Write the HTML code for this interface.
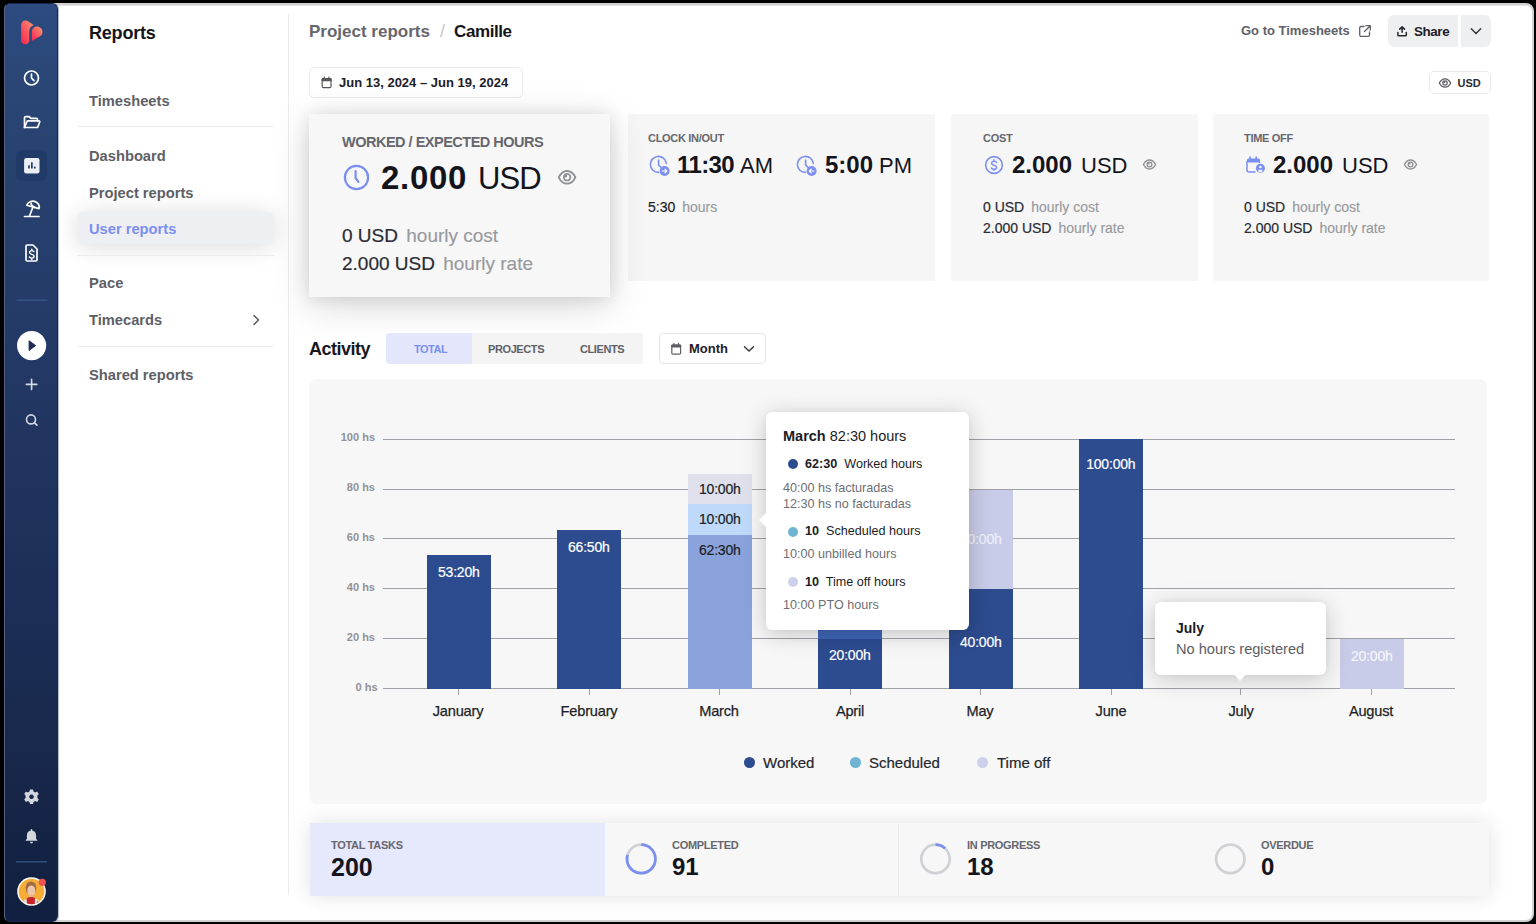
<!DOCTYPE html>
<html><head><meta charset="utf-8">
<style>
*{box-sizing:border-box;margin:0;padding:0}
html,body{width:1536px;height:924px;overflow:hidden;background:#000;font-family:"Liberation Sans",sans-serif;color:#1b1c24}
.win{position:absolute;left:4px;top:3px;width:1530px;height:919px;background:#fff;border-radius:8px;border:2px solid #d2d2d2;border-left:1px solid #d2d2d2;box-shadow:inset 0 1px 0 #e4e4e4;overflow:hidden}
.abs{position:absolute}
.side{position:absolute;left:4px;top:3px;width:54px;height:919px;border-radius:6px;border:1px solid #132850;border-left-color:#56627f;box-shadow:1px 0 1px rgba(30,45,85,0.35);background:linear-gradient(#2d4b80 0%,#294573 11%,#223662 44%,#1c2e57 66%,#18284a 82%,#111f40 100%)}
.nav{position:absolute;left:58px;top:3px;width:231px;height:893px}
.nav:after{content:"";position:absolute;left:230px;top:10px;width:1px;height:882px;background:#ebecef}
.nav .t{position:absolute;left:31px;font-size:14.7px;font-weight:bold;color:#5e5f66;white-space:nowrap}
.nav .hr{position:absolute;left:19px;width:197px;height:1px;background:#ededef}
.main{position:absolute;left:290px;top:3px;right:2px;bottom:2px}
.card{position:absolute;background:#f6f6f6}
.lbl{position:absolute;font-size:11px;font-weight:bold;color:#66676e;letter-spacing:-0.3px;white-space:nowrap}
.big{position:absolute;font-size:24px;white-space:nowrap;color:#14151c}
.big b{font-weight:bold}
.sub{position:absolute;font-size:14px;white-space:nowrap;color:#2a2b33;-webkit-text-stroke:0.2px #2a2b33}
.sub span{color:#98999e;margin-left:3px;-webkit-text-stroke:0.15px #98999e}
.ylab{position:absolute;font-size:11px;font-weight:bold;color:#919297;text-align:right;width:40px;white-space:nowrap}
.grid{position:absolute;left:383px;width:1072px;height:1px;background:#a0a1a6}
.bar{position:absolute;width:63.6px}
.bv{position:absolute;width:63.6px;text-align:center;font-size:14px;letter-spacing:-0.2px;color:#fff;white-space:nowrap;-webkit-text-stroke:0.2px currentColor}
.mon{position:absolute;width:100px;text-align:center;font-size:14.6px;letter-spacing:-0.2px;color:#1e1f26;white-space:nowrap;-webkit-text-stroke:0.25px #1e1f26}
.tick{position:absolute;width:1px;height:6px;background:#a0a1a6;top:689px}
</style></head><body>
<div class="win"></div>
<div class="side"></div>
<svg class="abs" style="left:0;top:0" width="60" height="924" viewBox="0 0 60 924">
  <defs>
    <linearGradient id="lg" x1="1" y1="0" x2="0" y2="1">
      <stop offset="0" stop-color="#ff9a72"/><stop offset="1" stop-color="#ff1f4e"/>
    </linearGradient>
  </defs>
  <!-- logo -->
  <path d="M25.5 20.6C22.8 20.6 21.1 22.6 21.1 25.6L21.1 40C21.1 42.7 23 44.3 25.4 44.3C27.8 44.3 29.2 42.4 29.2 40.2L29.2 31.8C29.2 28.6 30.6 26.2 33.6 24.9L28.4 21.4C27.5 20.9 26.5 20.6 25.5 20.6Z" fill="url(#lg)"/>
  <path d="M31.8 41L31.8 32.2C31.8 28.9 33.8 26.4 36.8 26.4C39.9 26.4 42.5 28.7 42.5 31.9C42.5 33.8 41.5 35.3 40 36.3Z" fill="url(#lg)"/>
  <!-- clock -->
  <g fill="none" stroke="#fff" stroke-width="1.7" stroke-linecap="round" stroke-linejoin="round">
    <circle cx="31.5" cy="78" r="7"/>
    <path d="M31.5 74.2V78.2L34 80.6"/>
    <!-- folder open -->
    <path d="M24.5 127.5V117.8C24.5 117.1 25 116.6 25.7 116.6H29.2L30.8 118.3H36.3C37 118.3 37.5 118.8 37.5 119.5V120.8"/>
    <path d="M24.5 127.5L27 121.5C27.2 121 27.6 120.8 28.1 120.8H38.8C39.5 120.8 39.9 121.4 39.7 122L37.6 127.5Z"/>
    <!-- umbrella -->
    <path d="M24.5 216.5H39"/>
    <path d="M29.5 216L32.8 207.5"/>
    <path d="M26.8 205.2C27.8 201.6 32.6 200 36 202C38.6 203.5 39.6 206.3 39 208.6Z"/>
    <path d="M31 203.2C31.3 205.6 32.6 206.9 34.7 207.3"/>
    <!-- doc dollar -->
    <path d="M26 246.2C26 245.5 26.6 245 27.2 245H33L37 249V259.8C37 260.5 36.4 261 35.8 261H27.2C26.6 261 26 260.5 26 259.8Z"/>
    <!-- plus -->
    <path d="M31.6 379.2V389.6M26.4 384.4H36.8" stroke="#d6dae3" stroke-width="1.6"/>
    <!-- search -->
    <circle cx="31" cy="419.4" r="4.5" stroke="#d6dae3" stroke-width="1.6"/>
    <path d="M34.3 422.7L36.9 425.2" stroke="#d6dae3" stroke-width="1.7"/>
  </g>
  <path d="M33.9 251.6C33.4 250.9 32.7 250.6 31.8 250.6C30.5 250.6 29.6 251.3 29.6 252.4C29.6 254.9 34.1 253.8 34.1 256.3C34.1 257.4 33.1 258.1 31.8 258.1C30.8 258.1 29.9 257.7 29.4 257M31.8 249.2V250.6M31.8 258.1V259.5" fill="none" stroke="#fff" stroke-width="1.4" stroke-linecap="round"/>
  <!-- chart active -->
  <rect x="16" y="150" width="31" height="31" rx="6" fill="#213b69"/>
  <rect x="24.1" y="158" width="15.4" height="15.4" rx="2.2" fill="#eceef3"/>
  <rect x="28.1" y="165.2" width="1.7" height="3.2" rx="0.5" fill="#22396a"/>
  <rect x="31" y="162.3" width="1.7" height="6.1" rx="0.5" fill="#22396a"/>
  <rect x="33.9" y="166.4" width="1.7" height="2" rx="0.5" fill="#22396a"/>
  <!-- divider -->
  <rect x="16.5" y="299.5" width="31" height="1.2" fill="#38598f"/>
  <!-- play -->
  <circle cx="31.6" cy="345.6" r="14.6" fill="#fff"/>
  <path d="M29.1 340.8L35.6 345.6L29.1 350.4Z" fill="#1f2b56" stroke="#1f2b56" stroke-width="1" stroke-linejoin="round"/>
  <!-- gear -->
  <g transform="translate(31.5 796.8)">
    <path fill="#d3d6dd" fill-rule="evenodd" d="M-1.5 -7.3H1.5L2 -5.2L3.7 -4.3L5.6 -5.2L7.3 -2.7L5.9 -1.2V1.2L7.3 2.7L5.6 5.2L3.7 4.3L2 5.2L1.5 7.3H-1.5L-2 5.2L-3.7 4.3L-5.6 5.2L-7.3 2.7L-5.9 1.2V-1.2L-7.3 -2.7L-5.6 -5.2L-3.7 -4.3L-2 -5.2ZM0 -2.3A2.3 2.3 0 1 0 0.01 -2.3Z"/>
  </g>
  <!-- bell -->
  <g transform="translate(0 1.5)" fill="#d3d6dd">
  <path d="M31.5 829C28.4 829 26.9 831.4 26.9 834.3V837.3L25.4 839.2H37.6L36.1 837.3V834.3C36.1 831.4 34.6 829 31.5 829Z"/>
  <path d="M30 840.2H33C33 841.3 32.3 841.9 31.5 841.9C30.7 841.9 30 841.3 30 840.2Z"/>
  <rect x="30.8" y="827.6" width="1.4" height="2" rx="0.6"/>
  </g>
  <rect x="16" y="861.3" width="31" height="1.2" fill="#38598f"/>
  <!-- avatar -->
  <circle cx="31.5" cy="891.5" r="14.3" fill="#fff"/>
  <circle cx="31.5" cy="891.5" r="12.8" fill="#f5ad35"/>
  <clipPath id="avc"><circle cx="31.5" cy="891.5" r="12.8"/></clipPath>
  <g clip-path="url(#avc)">
    <ellipse cx="31" cy="888" rx="5.4" ry="6.6" fill="#a06c48"/>
    <ellipse cx="31.3" cy="890.6" rx="4" ry="5.4" fill="#ebc6ab"/>
    <path d="M27.3 887.5C27.6 884.6 29.2 883.4 31.3 883.4C33.4 883.4 35 884.6 35.2 887.5C34 885.8 32.6 885.3 31.3 885.3C29.9 885.3 28.5 885.8 27.3 887.5Z" fill="#a06c48"/>
    <rect x="29.6" y="894.5" width="3.4" height="3.5" fill="#e2b89c"/>
    <path d="M22 907L24.2 900.3C25.5 899 27 898.4 28.5 898.3L29 907Z" fill="#e4e2e0"/>
    <path d="M34.2 898.3C36 898.5 37.6 899.2 38.8 900.4L41.5 907H34Z" fill="#e4e2e0"/>
    <path d="M26.6 898.6C28.4 897.3 30 897 31.4 897C32.8 897 34.4 897.3 35 898.4L34.6 907H27.2Z" fill="#c8222b"/>
    <path d="M37.2 900.8L38.8 901.6L37.6 903.4L36.6 902.5Z" fill="#e8742a"/>
  </g>
  <circle cx="42.3" cy="882.3" r="3.6" fill="#ef5350"/>
</svg>
<div class="nav">
  <div class="abs" style="left:31px;top:20px;font-size:18px;font-weight:bold;letter-spacing:-0.2px;color:#14151c">Reports</div>
  <div class="t" style="top:90px">Timesheets</div>
  <div class="hr" style="top:123px"></div>
  <div class="t" style="top:145px">Dashboard</div>
  <div class="t" style="top:182px">Project reports</div>
  <div class="abs" style="left:19px;top:209px;width:197px;height:32px;border-radius:6px;background:#eeeff2;box-shadow:0 2px 24px rgba(0,0,0,0.15)"></div>
  <div class="t" style="top:218px;color:#7b8ff0">User reports</div>
  <div class="hr" style="top:252px"></div>
  <div class="t" style="top:272px">Pace</div>
  <div class="t" style="top:309px">Timecards</div>
  <div class="hr" style="top:343px"></div>
  <div class="t" style="top:364px">Shared reports</div>
  <svg class="abs" style="left:193px;top:311px" width="10" height="12" viewBox="0 0 10 12"><path d="M3 1.5L7.5 6L3 10.5" fill="none" stroke="#56575e" stroke-width="1.5" stroke-linecap="round" stroke-linejoin="round"/></svg>
</div>

<!-- header -->
<div class="abs" style="left:309px;top:22px;font-size:17px;font-weight:bold;white-space:nowrap;color:#66676e">Project reports</div>
<div class="abs" style="left:440px;top:21px;font-size:18px;white-space:nowrap;color:#c6c6ca">/</div>
<div class="abs" style="left:454px;top:22px;font-size:17px;font-weight:bold;letter-spacing:-0.4px;white-space:nowrap;color:#14151c">Camille</div>
<div class="abs" style="left:309px;top:67px;width:214px;height:31px;border:1px solid #eaeaec;border-radius:5px;background:#fff"></div>
<svg class="abs" style="left:320px;top:76px" width="13" height="13" viewBox="0 0 13 13"><rect x="2.2" y="2.6" width="8.8" height="9.1" rx="1.1" fill="none" stroke="#55565d" stroke-width="1.2"/><rect x="1.6" y="2" width="10" height="3.2" rx="1" fill="#55565d"/><path d="M4.3 1V2.6M8.9 1V2.6" stroke="#55565d" stroke-width="1.2" stroke-linecap="round"/></svg>
<div class="abs" style="left:339px;top:75px;font-size:13px;font-weight:bold;color:#1f2027;white-space:nowrap">Jun 13, 2024 – Jun 19, 2024</div>

<div class="abs" style="left:1241px;top:23px;font-size:13px;font-weight:bold;color:#606167;white-space:nowrap">Go to Timesheets</div>
<svg class="abs" style="left:1357.5px;top:24px" width="14" height="14" viewBox="0 0 14 14"><path d="M6 2.5H3C2.2 2.5 1.7 3 1.7 3.8V11C1.7 11.8 2.2 12.3 3 12.3H10.2C11 12.3 11.5 11.8 11.5 11V8M8 1.7H12.3V6M12.3 1.7L6.5 7.5" fill="none" stroke="#606167" stroke-width="1.3" stroke-linecap="round" stroke-linejoin="round"/></svg>
<div class="abs" style="left:1387.5px;top:15px;width:70.5px;height:31.6px;background:#eeeff1;border-radius:6px 0 0 6px"></div>
<div class="abs" style="left:1461.3px;top:15px;width:29.3px;height:31.6px;background:#eeeff1;border-radius:0 6px 6px 0"></div>
<svg class="abs" style="left:1396px;top:23px" width="12" height="14" viewBox="0 0 12 14"><path d="M6.1 9.2V3.9M3.7 6.1L6.1 3.7L8.5 6.1M1.9 9.6V11.9C1.9 12.4 2.3 12.7 2.8 12.7H9.4C9.9 12.7 10.3 12.4 10.3 11.9V9.6" fill="none" stroke="#26272e" stroke-width="1.5" stroke-linecap="round" stroke-linejoin="round"/></svg>
<div class="abs" style="left:1414px;top:23.5px;font-size:13.4px;font-weight:bold;letter-spacing:-0.4px;color:#1f2027">Share</div>
<svg class="abs" style="left:1469px;top:26px" width="14" height="10" viewBox="0 0 14 10"><path d="M2.3 2.8L7 7.6L11.7 2.8" fill="none" stroke="#3a3b42" stroke-width="1.5" stroke-linecap="round" stroke-linejoin="round"/></svg>

<div class="abs" style="left:1429px;top:71px;width:62px;height:23px;border:1px solid #ebebed;border-radius:5px;background:#fff"></div>
<svg class="abs" style="left:1438px;top:76.5px" width="14" height="12" viewBox="0 0 14 12"><path d="M1.3 6C2.7 3.3 4.7 1.8 7 1.8C9.3 1.8 11.3 3.3 12.7 6C11.3 8.7 9.3 10.2 7 10.2C4.7 10.2 2.7 8.7 1.3 6Z" fill="none" stroke="#5a5b62" stroke-width="1.25" stroke-linejoin="round"/><circle cx="7" cy="6" r="2.2" fill="none" stroke="#5a5b62" stroke-width="1.2"/><circle cx="6.4" cy="5.4" r="0.8" fill="#5a5b62"/></svg>
<div class="abs" style="left:1457.5px;top:77px;font-size:11px;font-weight:bold;color:#2a2b33">USD</div>

<!-- cards -->
<div class="card" style="left:628px;top:114px;width:307px;height:167px"></div>
<div class="card" style="left:951px;top:114px;width:247px;height:167px"></div>
<div class="card" style="left:1213px;top:114px;width:276px;height:167px"></div>

<!-- card 2 -->
<div class="lbl" style="left:648px;top:132px">CLOCK IN/OUT</div>
<svg class="abs" style="left:649px;top:155px" width="22" height="22" viewBox="0 0 22 22"><path d="M17.3 8.5A8 8 0 1 0 9.5 17.4" fill="none" stroke="#7b8ff0" stroke-width="1.6" stroke-linecap="round"/><path d="M9.6 5V10.1L12.3 12.5" fill="none" stroke="#7b8ff0" stroke-width="1.6" stroke-linecap="round" stroke-linejoin="round"/><circle cx="15.6" cy="16" r="5" fill="#7b8ff0"/><path d="M13.2 16H17.8M16 14.2L17.8 16L16 17.8" fill="none" stroke="#fff" stroke-width="1.2" stroke-linecap="round" stroke-linejoin="round"/></svg>
<div class="big" style="left:677px;top:151px"><b style="letter-spacing:-0.6px">11:30</b><span style="font-size:22px;margin-left:6px">AM</span></div>
<svg class="abs" style="left:796px;top:155px" width="22" height="22" viewBox="0 0 22 22"><path d="M17.3 8.5A8 8 0 1 0 9.5 17.4" fill="none" stroke="#7b8ff0" stroke-width="1.6" stroke-linecap="round"/><path d="M9.6 5V10.1L12.3 12.5" fill="none" stroke="#7b8ff0" stroke-width="1.6" stroke-linecap="round" stroke-linejoin="round"/><circle cx="15.6" cy="16" r="5" fill="#7b8ff0"/><path d="M18 16H13.4M15.2 14.2L13.4 16L15.2 17.8" fill="none" stroke="#fff" stroke-width="1.2" stroke-linecap="round" stroke-linejoin="round"/></svg>
<div class="big" style="left:825px;top:151px"><b>5:00</b><span style="font-size:22px;margin-left:6px">PM</span></div>
<div class="sub" style="left:648px;top:199px"><b style="font-weight:normal;color:#1b1c24">5:30</b> <span>hours</span></div>

<!-- card 3 -->
<div class="lbl" style="left:983px;top:132px">COST</div>
<svg class="abs" style="left:984px;top:155px" width="20" height="20" viewBox="0 0 20 20"><circle cx="10" cy="10" r="8.4" fill="none" stroke="#7b8ff0" stroke-width="1.6"/><path d="M12.5 7.4C12 6.6 11.1 6.2 10 6.2C8.6 6.2 7.6 7 7.6 8.2C7.6 10.9 12.6 9.7 12.6 12.3C12.6 13.5 11.5 14.3 10 14.3C8.8 14.3 7.9 13.8 7.4 13M10 4.8V6.2M10 14.3V15.3" fill="none" stroke="#7b8ff0" stroke-width="1.6" stroke-linecap="round"/></svg>
<div class="big" style="left:1012px;top:151px"><b>2.000</b><span style="font-size:22px;margin-left:9px">USD</span></div>
<svg class="abs" style="left:1142px;top:158px" width="15" height="13" viewBox="0 0 15 13"><path d="M1.4 6.5C2.9 3.6 5 2 7.5 2C10 2 12.1 3.6 13.6 6.5C12.1 9.4 10 11 7.5 11C5 11 2.9 9.4 1.4 6.5Z" fill="none" stroke="#8e8f94" stroke-width="1.35" stroke-linejoin="round"/><circle cx="7.5" cy="6.5" r="2.4" fill="none" stroke="#8e8f94" stroke-width="1.3"/><circle cx="6.7" cy="5.7" r="0.9" fill="#8e8f94"/></svg>
<div class="sub" style="left:983px;top:199px">0 USD <span>hourly cost</span></div>
<div class="sub" style="left:983px;top:220px">2.000 USD <span>hourly rate</span></div>

<!-- card 4 -->
<div class="lbl" style="left:1244px;top:132px">TIME OFF</div>
<svg class="abs" style="left:1245.6px;top:156.3px" width="20" height="18" viewBox="0 0 20 18"><path d="M9.5 16H3C1.8 16 1 15.2 1 14V5" fill="none" stroke="#7b8ff0" stroke-width="1.5"/><path d="M13.4 5V7.5" stroke="#7b8ff0" stroke-width="1.5"/><rect x="1" y="2.6" width="13.1" height="3.8" rx="1.6" fill="#7b8ff0"/><path d="M4.1 1V3M10.2 1V3" stroke="#7b8ff0" stroke-width="1.6" stroke-linecap="round"/><circle cx="14.4" cy="12.3" r="5.3" fill="#f6f6f6"/><circle cx="14.4" cy="12.3" r="4.5" fill="#7b8ff0"/><circle cx="14.4" cy="11" r="1.35" fill="#f6f6f6"/><path d="M11.9 15.1C12.5 14.1 13.4 13.7 14.4 13.7C15.4 13.7 16.3 14.1 16.9 15.1C16.2 15.9 15.3 16.3 14.4 16.3C13.5 16.3 12.6 15.9 11.9 15.1Z" fill="#f6f6f6"/></svg>
<div class="big" style="left:1273px;top:151px"><b>2.000</b><span style="font-size:22px;margin-left:9px">USD</span></div>
<svg class="abs" style="left:1403px;top:158px" width="15" height="13" viewBox="0 0 15 13"><path d="M1.4 6.5C2.9 3.6 5 2 7.5 2C10 2 12.1 3.6 13.6 6.5C12.1 9.4 10 11 7.5 11C5 11 2.9 9.4 1.4 6.5Z" fill="none" stroke="#8e8f94" stroke-width="1.35" stroke-linejoin="round"/><circle cx="7.5" cy="6.5" r="2.4" fill="none" stroke="#8e8f94" stroke-width="1.3"/><circle cx="6.7" cy="5.7" r="0.9" fill="#8e8f94"/></svg>
<div class="sub" style="left:1244px;top:199px">0 USD <span>hourly cost</span></div>
<div class="sub" style="left:1244px;top:220px">2.000 USD <span>hourly rate</span></div>

<!-- card 1 elevated -->
<div class="card" style="left:309px;top:114px;width:301px;height:183px;background:#f7f7f7;box-shadow:0 8px 34px rgba(0,0,0,0.17),0 0 16px rgba(0,0,0,0.09)"></div>
<div class="lbl" style="left:342px;top:134px;font-size:14.5px;letter-spacing:-0.5px">WORKED / EXPECTED HOURS</div>
<svg class="abs" style="left:343px;top:164px" width="27" height="27" viewBox="0 0 27 27"><circle cx="13.5" cy="13.5" r="11.6" fill="none" stroke="#7b8ff0" stroke-width="2.2"/><path d="M12.6 7.2V14L15.4 17.8" fill="none" stroke="#7b8ff0" stroke-width="2.2" stroke-linecap="round" stroke-linejoin="round"/></svg>
<div class="big" style="left:381px;top:159px;font-size:33px"><b style="letter-spacing:0.7px">2.000</b><span style="font-size:31px;letter-spacing:-1px;margin-left:11px">USD</span></div>
<svg class="abs" style="left:556px;top:168px" width="22" height="19" viewBox="0 0 22 19"><path d="M2.8 9.3C4.7 5.3 7.6 3 11.1 3C14.6 3 17.5 5.3 19.4 9.3C17.5 13.3 14.6 15.6 11.1 15.6C7.6 15.6 4.7 13.3 2.8 9.3Z" fill="none" stroke="#8e8f94" stroke-width="1.8" stroke-linejoin="round"/><circle cx="11.1" cy="9.2" r="3.3" fill="none" stroke="#8e8f94" stroke-width="1.7"/><circle cx="9.9" cy="8.1" r="1.3" fill="#8e8f94"/></svg>
<div class="sub" style="left:342px;top:225px;font-size:19px">0 USD <span>hourly cost</span></div>
<div class="sub" style="left:342px;top:253px;font-size:19px">2.000 USD <span>hourly rate</span></div>

<!-- activity -->
<div class="abs" style="left:309px;top:339px;font-size:18px;font-weight:bold;letter-spacing:-0.5px;color:#17181f">Activity</div>
<div class="abs" style="left:386px;top:333px;width:257px;height:31px;background:#f4f4f5;border-radius:4px 0 0 4px"></div>
<div class="abs" style="left:386px;top:333px;width:86px;height:31px;background:#e4e6fb;border-radius:4px 0 0 4px"></div>
<div class="abs" style="left:414px;top:343px;font-size:11px;font-weight:bold;letter-spacing:-0.5px;color:#7b8ff0">TOTAL</div>
<div class="abs" style="left:488px;top:343px;font-size:11px;font-weight:bold;letter-spacing:-0.4px;color:#606167">PROJECTS</div>
<div class="abs" style="left:580px;top:343px;font-size:11px;font-weight:bold;letter-spacing:-0.4px;color:#606167">CLIENTS</div>
<div class="abs" style="left:659px;top:333px;width:107px;height:31px;border:1px solid #e6e6e8;border-radius:4px;background:#fff"></div>
<svg class="abs" style="left:670px;top:342px" width="13" height="14" viewBox="0 0 13 14"><rect x="1.8" y="3" width="8.8" height="9.2" rx="1.1" fill="none" stroke="#5d5e65" stroke-width="1.2"/><rect x="1.2" y="2.4" width="10" height="3.2" rx="1" fill="#5d5e65"/><path d="M3.9 1.3V3M8.5 1.3V3" stroke="#5d5e65" stroke-width="1.2" stroke-linecap="round"/></svg>
<div class="abs" style="left:689px;top:341px;font-size:13px;font-weight:bold;color:#1f2027">Month</div>
<svg class="abs" style="left:742px;top:344px" width="14" height="10" viewBox="0 0 14 10"><path d="M2.5 2.8L7 7L11.5 2.8" fill="none" stroke="#3a3b42" stroke-width="1.5" stroke-linecap="round" stroke-linejoin="round"/></svg>

<!-- chart panel -->
<div class="abs" style="left:308.5px;top:379px;width:1178.5px;height:425px;background:#f7f7f7;border-radius:8px"></div>
<div class="ylab" style="left:335px;top:431px">100 hs</div>
<div class="ylab" style="left:335px;top:481px">80 hs</div>
<div class="ylab" style="left:335px;top:531px">60 hs</div>
<div class="ylab" style="left:335px;top:581px">40 hs</div>
<div class="ylab" style="left:335px;top:631px">20 hs</div>
<div class="ylab" style="left:337.5px;top:681px">0 hs</div>
<div class="grid" style="top:439px"></div>
<div class="grid" style="top:489px"></div>
<div class="grid" style="top:538px"></div>
<div class="grid" style="top:588px"></div>
<div class="grid" style="top:638px"></div>
<div class="grid" style="top:688px"></div>

<!-- bars -->
<div class="bar" style="left:427px;top:555px;height:134px;background:#2d4b8f"></div>
<div class="bv" style="left:427px;top:564px">53:20h</div>
<div class="bar" style="left:557px;top:530px;height:159px;background:#2d4b8f"></div>
<div class="bv" style="left:557px;top:539px">66:50h</div>
<div class="bar" style="left:688px;top:474px;height:30px;background:#dfe0ec"></div>
<div class="bar" style="left:688px;top:504px;height:31px;background:#bed9fa"></div>
<div class="bar" style="left:688px;top:535px;height:154px;background:#8ba3dc"></div>
<div class="bv" style="left:688px;top:481px;color:#1b1c24">10:00h</div>
<div class="bv" style="left:688px;top:511px;color:#1b1c24">10:00h</div>
<div class="bv" style="left:688px;top:542px;color:#1b1c24">62:30h</div>
<div class="bar" style="left:818px;top:620px;height:19px;background:#3f65b5"></div>
<div class="bar" style="left:818px;top:639px;height:50px;background:#2d4b8f"></div>
<div class="bv" style="left:818px;top:647px">20:00h</div>
<div class="bar" style="left:949px;top:490px;height:99px;background:#c9cce8"></div>
<div class="bar" style="left:949px;top:589px;height:100px;background:#2d4b8f"></div>
<div class="bv" style="left:949px;top:531px;color:#eef0fa">20:00h</div>
<div class="bv" style="left:949px;top:634px">40:00h</div>
<div class="bar" style="left:1079px;top:439px;height:250px;background:#2d4b8f"></div>
<div class="bv" style="left:1079px;top:456px">100:00h</div>
<div class="bar" style="left:1340px;top:639px;height:50px;background:#c9cce8"></div>
<div class="bv" style="left:1340px;top:648px;color:#f4f5fb">20:00h</div>

<div class="tick" style="left:458px"></div>
<div class="tick" style="left:589px"></div>
<div class="tick" style="left:719px"></div>
<div class="tick" style="left:850px"></div>
<div class="tick" style="left:980px"></div>
<div class="tick" style="left:1111px"></div>
<div class="tick" style="left:1240px"></div>
<div class="tick" style="left:1371px"></div>
<div class="mon" style="left:408px;top:703px">January</div>
<div class="mon" style="left:539px;top:703px">February</div>
<div class="mon" style="left:669px;top:703px">March</div>
<div class="mon" style="left:800px;top:703px">April</div>
<div class="mon" style="left:930px;top:703px">May</div>
<div class="mon" style="left:1061px;top:703px">June</div>
<div class="mon" style="left:1191px;top:703px">July</div>
<div class="mon" style="left:1321px;top:703px">August</div>

<!-- legend -->
<div class="abs" style="left:744px;top:757px;width:11px;height:11px;border-radius:50%;background:#2d4b8f"></div>
<div class="abs" style="left:763px;top:754px;font-size:15px;color:#26272e;-webkit-text-stroke:0.2px #26272e">Worked</div>
<div class="abs" style="left:850px;top:757px;width:11px;height:11px;border-radius:50%;background:#6fb5d3"></div>
<div class="abs" style="left:869px;top:754px;font-size:15px;color:#26272e;-webkit-text-stroke:0.2px #26272e">Scheduled</div>
<div class="abs" style="left:977px;top:757px;width:11px;height:11px;border-radius:50%;background:#cdd0ea"></div>
<div class="abs" style="left:997px;top:754px;font-size:15px;color:#26272e;-webkit-text-stroke:0.2px #26272e">Time off</div>

<!-- tooltip march -->
<div class="abs" style="left:766px;top:412px;width:203px;height:218px;background:#fff;border-radius:6px;box-shadow:0 4px 24px rgba(0,0,0,0.2),0 0 6px rgba(0,0,0,0.04)"></div>
<div class="abs" style="left:759px;top:512px;width:0;height:0;border-top:8px solid transparent;border-bottom:8px solid transparent;border-right:8px solid #fff"></div>
<div class="abs" style="left:783px;top:428px;font-size:14.5px;color:#1b1c24;white-space:nowrap"><b>March</b> 82:30 hours</div>
<div class="abs" style="left:788px;top:459px;width:10px;height:10px;border-radius:50%;background:#2d4b8f"></div>
<div class="abs" style="left:805px;top:457px;font-size:12.6px;color:#1b1c24;white-space:nowrap"><b>62:30</b>&nbsp; Worked hours</div>
<div class="abs" style="left:783px;top:480px;font-size:12.6px;color:#6d6e74;white-space:nowrap;line-height:16px">40:00 hs facturadas<br>12:30 hs no facturadas</div>
<div class="abs" style="left:788px;top:527px;width:10px;height:10px;border-radius:50%;background:#6fb5d3"></div>
<div class="abs" style="left:805px;top:524px;font-size:12.6px;color:#1b1c24;white-space:nowrap"><b>10</b>&nbsp; Scheduled hours</div>
<div class="abs" style="left:783px;top:547px;font-size:12.6px;color:#6d6e74;white-space:nowrap">10:00 unbilled hours</div>
<div class="abs" style="left:788px;top:577px;width:10px;height:10px;border-radius:50%;background:#cdd0ea"></div>
<div class="abs" style="left:805px;top:575px;font-size:12.6px;color:#1b1c24;white-space:nowrap"><b>10</b>&nbsp; Time off hours</div>
<div class="abs" style="left:783px;top:598px;font-size:12.6px;color:#6d6e74;white-space:nowrap">10:00 PTO hours</div>

<!-- tooltip july -->
<div class="abs" style="left:1155px;top:602px;width:171px;height:72.5px;background:#fff;border-radius:6px;box-shadow:0 4px 24px rgba(0,0,0,0.2),0 0 6px rgba(0,0,0,0.04)"></div>
<div class="abs" style="left:1234px;top:674px;width:0;height:0;border-left:6.5px solid transparent;border-right:6.5px solid transparent;border-top:7px solid #fff"></div>
<div class="abs" style="left:1176px;top:620px;font-size:14px;font-weight:bold;color:#1b1c24">July</div>
<div class="abs" style="left:1176px;top:641px;font-size:14.6px;color:#5c5d63;white-space:nowrap">No hours registered</div>

<!-- bottom stats -->
<div class="abs" style="left:310px;top:823px;width:1179px;height:73px;background:#f7f7f7;box-shadow:0 0 20px rgba(0,0,0,0.12)"></div>
<div class="abs" style="left:310px;top:823px;width:295px;height:73px;background:#e6e8fb"></div>
<div class="abs" style="left:898px;top:823px;width:1px;height:73px;background:#ececee"></div>
<div class="lbl" style="left:331px;top:839px">TOTAL TASKS</div>
<div class="abs" style="left:331px;top:853px;font-size:25px;font-weight:bold;color:#14151c">200</div>
<svg class="abs" style="left:624px;top:842px" width="34" height="34" viewBox="0 0 34 34"><circle cx="17.2" cy="16.9" r="14.2" fill="none" stroke="#d0d1d5" stroke-width="2.7"/><circle cx="17.2" cy="16.9" r="14.2" fill="none" stroke="#7b8ff0" stroke-width="2.7" stroke-dasharray="70.6 200" transform="rotate(-90 17.2 16.9)"/></svg>
<div class="lbl" style="left:672px;top:839px">COMPLETED</div>
<div class="abs" style="left:672px;top:853px;font-size:24px;font-weight:bold;color:#14151c">91</div>
<svg class="abs" style="left:918px;top:842px" width="34" height="34" viewBox="0 0 34 34"><circle cx="17.5" cy="16.9" r="14.2" fill="none" stroke="#d0d1d5" stroke-width="2.7"/><circle cx="17.5" cy="16.9" r="14.2" fill="none" stroke="#7b8ff0" stroke-width="2.7" stroke-dasharray="10.4 200" transform="rotate(-90 17.5 16.9)"/></svg>
<div class="lbl" style="left:967px;top:839px">IN PROGRESS</div>
<div class="abs" style="left:967px;top:853px;font-size:24px;font-weight:bold;color:#14151c">18</div>
<svg class="abs" style="left:1213px;top:842px" width="34" height="34" viewBox="0 0 34 34"><circle cx="17.3" cy="16.9" r="14.2" fill="none" stroke="#d0d1d5" stroke-width="2.7"/></svg>
<div class="lbl" style="left:1261px;top:839px">OVERDUE</div>
<div class="abs" style="left:1261px;top:853px;font-size:24px;font-weight:bold;color:#14151c">0</div>

</body></html>
